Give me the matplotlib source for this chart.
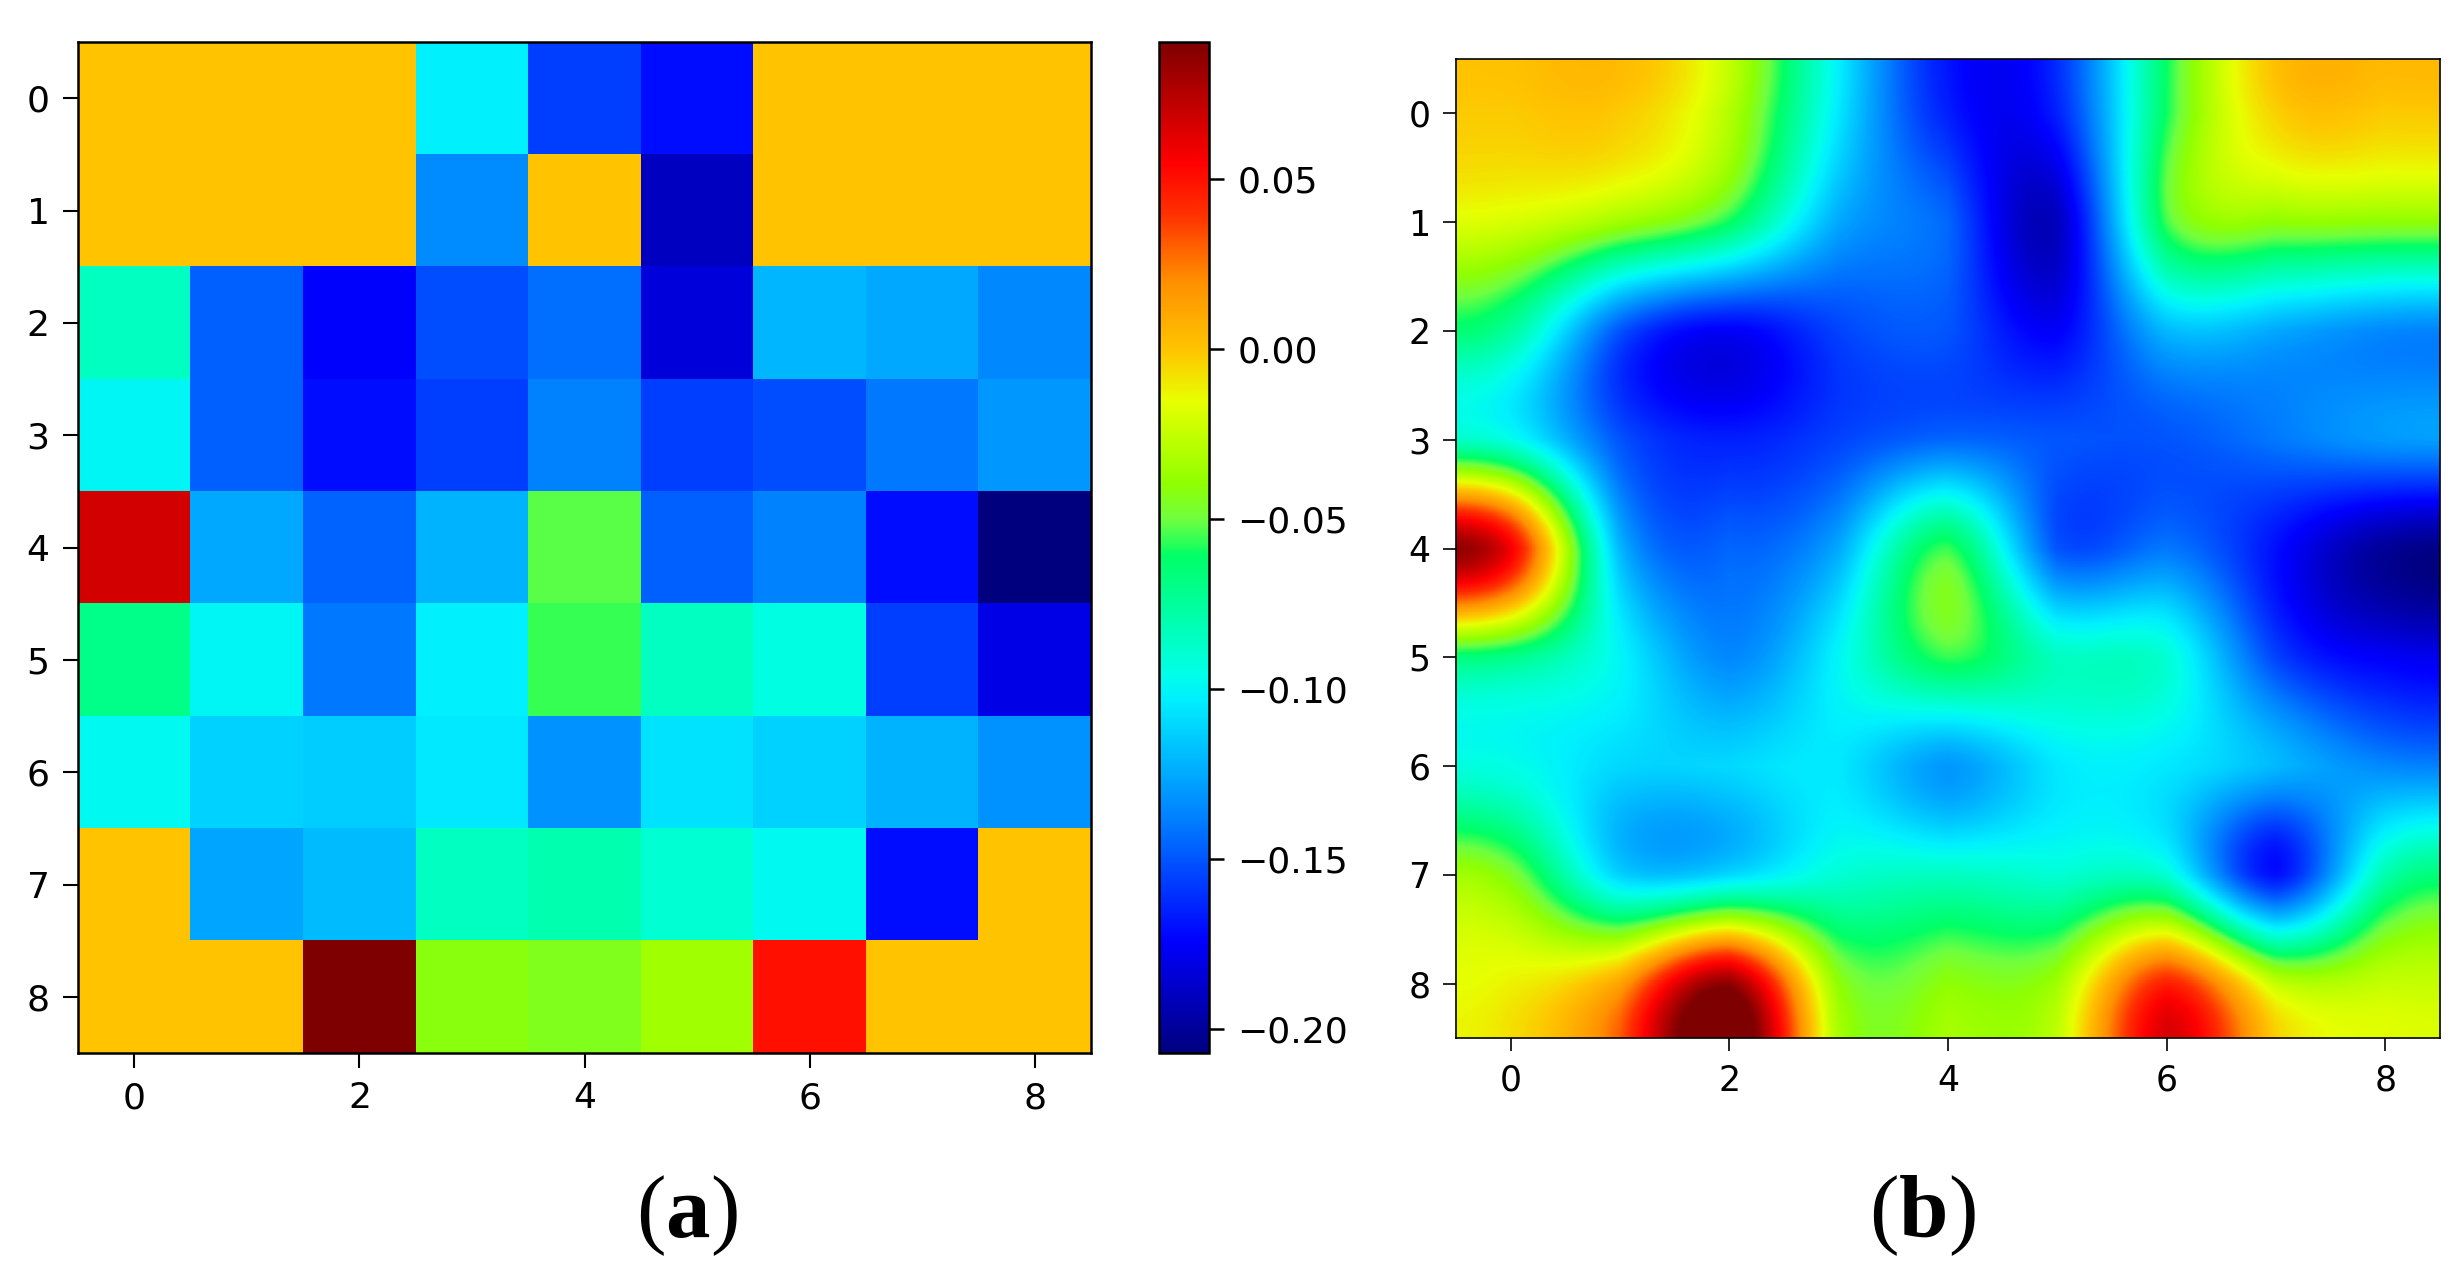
import numpy as np
import matplotlib
matplotlib.use("Agg")
import matplotlib.pyplot as plt
from matplotlib.colors import LinearSegmentedColormap, Normalize

plt.rcParams["mathtext.fontset"] = "custom"
plt.rcParams["mathtext.rm"] = "Liberation Serif"
plt.rcParams["mathtext.bf"] = "Liberation Serif:bold"

W, H = 2464, 1277
VMIN, VMAX = -0.207, 0.0903

# panel (a), read from the blocks
row0 = [0, 0, 0, -0.103, -0.156, -0.17, 0, 0, 0]
row1 = [0, 0, 0, -0.134, 0, -0.19, 0, 0, 0]
row2 = [-0.085, -0.147, -0.174, -0.152, -0.143, -0.183, -0.121, -0.125, -0.135]
row3 = [-0.1, -0.147, -0.17, -0.156, -0.137, -0.156, -0.152, -0.14, -0.13]
row4 = [0.067, -0.125, -0.146, -0.122, -0.052, -0.147, -0.137, -0.17, -0.207]
row5 = [-0.07, -0.1, -0.14, -0.103, -0.056, -0.085, -0.094, -0.156, -0.18]
row6 = [-0.098, -0.112, -0.114, -0.105, -0.132, -0.107, -0.112, -0.122, -0.132]
row7 = [0, -0.126, -0.119, -0.085, -0.08, -0.09, -0.098, -0.17, 0]
row8 = [0, 0, 0.0903, -0.042, -0.044, -0.035, 0.05, 0, 0]
grid_a = np.array([row0, row1, row2, row3, row4, row5, row6, row7, row8])

# panel (b), read at the integer positions of the smooth image
smooth0 = [-0.002, -0.002, -0.03, -0.105, -0.165, -0.165, -0.06, -0.004, -0.002]
smooth1 = [-0.02, -0.035, -0.06, -0.125, -0.145, -0.19, -0.055, -0.04, -0.04]
smooth2 = [-0.075, -0.15, -0.175, -0.155, -0.15, -0.175, -0.12, -0.125, -0.135]
smooth3 = [-0.095, -0.15, -0.165, -0.155, -0.145, -0.15, -0.15, -0.14, -0.13]
smooth4 = [0.058, -0.12, -0.145, -0.125, -0.056, -0.15, -0.14, -0.17, -0.2]
smooth5 = [-0.07, -0.1, -0.135, -0.1, -0.056, -0.085, -0.09, -0.155, -0.175]
smooth6 = [-0.095, -0.11, -0.11, -0.105, -0.13, -0.105, -0.105, -0.12, -0.135]
smooth7 = [-0.045, -0.112, -0.11, -0.09, -0.085, -0.09, -0.09, -0.17, -0.08]
smooth8 = [-0.012, 0.012, 0.085, -0.04, -0.04, -0.035, 0.045, -0.025, -0.025]
grid_b = np.array([smooth0, smooth1, smooth2, smooth3, smooth4,
                   smooth5, smooth6, smooth7, smooth8])

xticks = [0, 2, 4, 6, 8]
yticks = [0, 1, 2, 3, 4, 5, 6, 7, 8]
cbar_ticks = [0.05, 0.00, -0.05, -0.10, -0.15, -0.20]

# colours of the printed colorbar, a more saturated jet
cmap_vals = [-0.207, -0.174, -0.138, -0.103, -0.0955, -0.076, -0.061, -0.05,
             -0.0395, -0.015, 0.0, 0.02, 0.04, 0.055, 0.0903]
cmap_cols = ["#00007F", "#0000FF", "#0080FF", "#00F0FF", "#00FFE8", "#00FFA0",
             "#00FF66", "#70FF40", "#90FF00", "#E8FF00", "#FFC400", "#FF9000",
             "#FF3000", "#FF0000", "#7F0000"]
norm = Normalize(VMIN, VMAX)
cmap = LinearSegmentedColormap.from_list(
    "print_jet", [(float(norm(v)), c) for v, c in zip(cmap_vals, cmap_cols)], N=512)


def box(x0, y0, x1, y1):
    # pixel box of the reference to figure fractions
    return [x0 / W, 1 - y1 / H, (x1 - x0) / W, (y1 - y0) / H]


fig = plt.figure(figsize=(W / 100, H / 100), dpi=100)

ax1 = fig.add_axes(box(78, 42, 1091, 1053))
im = ax1.imshow(grid_a, cmap=cmap, norm=norm, aspect="auto", interpolation="nearest")
ax1.set_xticks(xticks)
ax1.set_yticks(yticks)
ax1.tick_params(length=10.5, width=1.5, pad=10, labelsize=26)
for s in ax1.spines.values():
    s.set_linewidth(1.8)

cax = fig.add_axes(box(1159, 42, 1209, 1053))
cb = fig.colorbar(im, cax=cax)
cb.set_ticks(cbar_ticks)
cb.ax.tick_params(length=10.5, width=1.8, pad=10, labelsize=26)
cb.outline.set_linewidth(1.8)

ax2 = fig.add_axes(box(1456, 59, 2440, 1038))
ax2.imshow(grid_b, cmap=cmap, norm=norm, aspect="auto", interpolation="spline16")
ax2.set_xticks(xticks)
ax2.set_yticks(yticks)
ax2.tick_params(length=9.5, width=1.2, pad=9, labelsize=25)
for s in ax2.spines.values():
    s.set_linewidth(1.2)

for label, x in [("a", 687), ("b", 1922)]:
    fig.text(x / W, 1 - 1214 / H, "$(\\mathbf{" + label + "})$",
             ha="center", va="center", fontsize=64)

fig.savefig("out.png", dpi=100)
